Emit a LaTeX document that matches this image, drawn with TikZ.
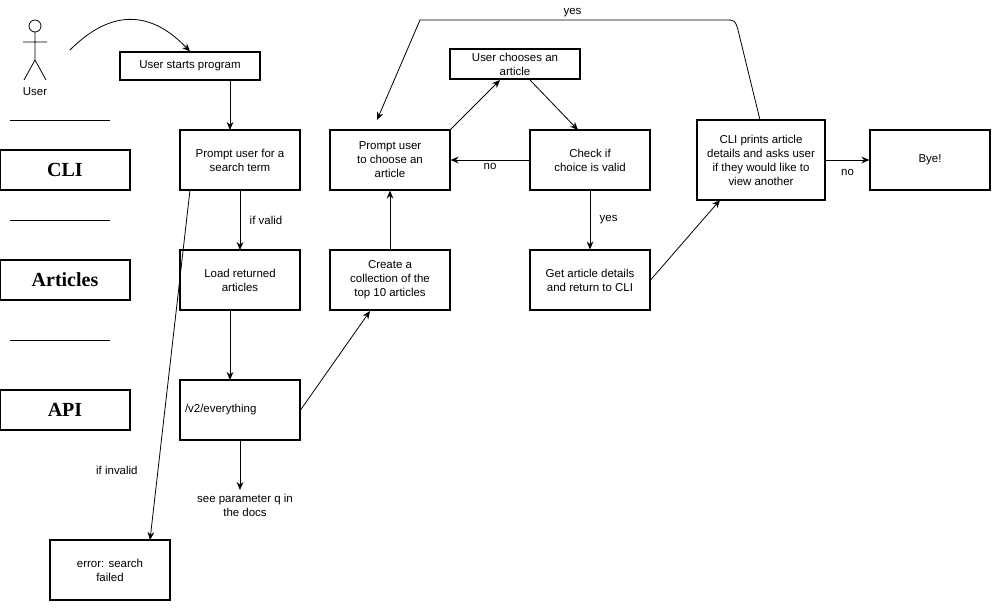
\documentclass[tikz,border=0pt]{standalone}
\usepackage{fontspec}
\setmainfont{Liberation Sans}
\newfontfamily\serifb{Liberation Serif}
\usetikzlibrary{arrows.meta}
\begin{document}
\begin{tikzpicture}[x=0.75pt,y=-0.75pt,
  box/.style={draw,thick,fill=white,align=center,font=\fontsize{8.6}{10.5}\selectfont,inner sep=1pt},
  lane/.style={draw,thick,fill=white,font=\serifb\bfseries\fontsize{15}{17}\selectfont},
  arr/.style={-{Stealth[length=6pt,width=5pt]},semithick},
  lbl/.style={font=\fontsize{8.6}{10.5}\selectfont,fill=white,inner sep=1pt}]
\useasboundingbox (0,0) rectangle (1002,612);
% actor
\draw[semithick] (35,26) circle (6);
\draw[semithick] (35,32) -- (35,60) (23,42) -- (47,42) (35,60) -- (24,80) (35,60) -- (46,80);
\node[lbl] (usr) at (35,92) {User};
\coordinate (cs) at (70,50);
% lanes
\draw[semithick] (10,120) -- (110,120) (10,220) -- (110,220) (10,340) -- (110,340);
\node[lane,minimum width=130*0.75pt,minimum height=40*0.75pt] (cli) at (65,170) {CLI};
\node[lane,minimum width=130*0.75pt,minimum height=40*0.75pt] (art) at (65,280) {Articles};
\node[lane,minimum width=130*0.75pt,minimum height=40*0.75pt] (api) at (65,410) {API};
% boxes
\node[box,minimum width=140*0.75pt,minimum height=28*0.75pt] (start) at (190,66) {User starts program};
\node[box,minimum width=120*0.75pt,minimum height=60*0.75pt] (search) at (240,160) {Prompt user for a\\search term};
\node[box,minimum width=120*0.75pt,minimum height=60*0.75pt] (load) at (240,280) {Load returned\\articles};
\node[box,minimum width=120*0.75pt,minimum height=60*0.75pt,text width=110*0.75pt,align=left] (v2) at (240,410) {/v2/everything};
\node[box,minimum width=120*0.75pt,minimum height=60*0.75pt] (coll) at (390,280) {Create a\\collection of the\\top 10 articles};
\node[box,minimum width=120*0.75pt,minimum height=60*0.75pt] (choose) at (390,160) {Prompt user\\to choose an\\article};
\node[box,minimum width=130*0.75pt,minimum height=30*0.75pt] (uch) at (515,64) {User chooses an\\article};
\node[box,minimum width=120*0.75pt,minimum height=60*0.75pt] (check) at (590,160) {Check if\\choice is valid};
\node[box,minimum width=120*0.75pt,minimum height=60*0.75pt] (get) at (590,280) {Get article details\\and return to CLI};
\node[box,minimum width=128*0.75pt,minimum height=80*0.75pt] (prints) at (761,160) {CLI prints article\\details and asks user\\if they would like to\\view another};
\node[box,minimum width=120*0.75pt,minimum height=60*0.75pt] (bye) at (930,160) {Bye!};
\node[box,minimum width=120*0.75pt,minimum height=60*0.75pt] (err) at (110,570) {error: search\\failed};
\node[lbl,align=center] (docs) at (245,505) {see parameter q in\\the docs};
\coordinate (dtop) at (240,490);
% connectors
\draw[arr] (cs) .. controls (120,0) and (160,20) .. (start.north);
\draw[arr] (230,80) -- (230,130);
\draw[arr] (240,190) -- node[lbl,right=6pt]{if valid} (240,250);
\draw[arr] (230,310) -- (230,380);
\draw[arr] (240,440) -- (dtop);
\draw[arr] (v2.east) -- (370,311);
\draw[arr] (coll.north) -- (choose.south);
\draw[arr] (450,130) -- (500,80);
\draw[arr] (530,80) -- (578,130);
\draw[arr] (check.west) -- node[lbl,below=1pt]{no} (choose.east);
\draw[arr] (check.south) -- node[lbl,right=6pt]{yes} (get.north);
\draw[arr] (get.east) -- (720,200);
\draw[arr] (prints.east) -- node[lbl,below=6pt]{no} (bye.west);
\draw[arr] (760,120) -- (738,30) .. controls (735,20) .. (725,20) -- node[lbl,above=1pt,fill=none]{yes} (420,20) -- (377,120);
\draw[arr] (190,190) -- node[lbl,pos=0.8,left=14pt]{if invalid} (150,540);
\end{tikzpicture}
\end{document}
